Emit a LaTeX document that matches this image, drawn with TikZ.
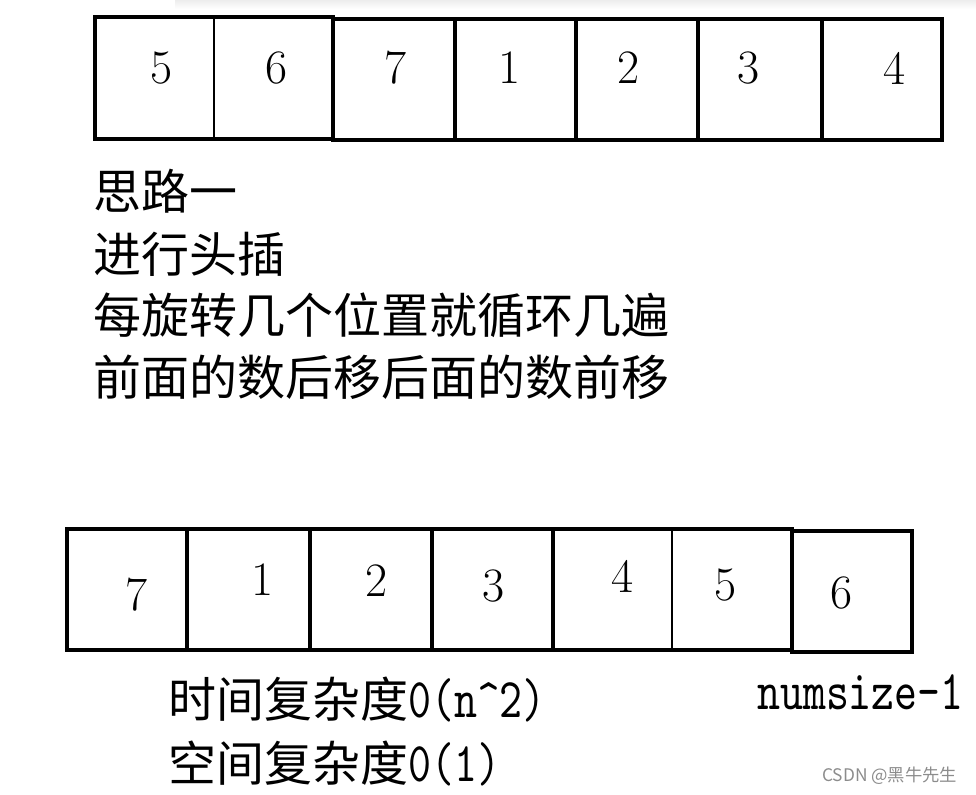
\documentclass[tikz,border=0pt]{standalone}
\usepackage{fontspec}
\newfontfamily\cjk{Noto Sans CJK SC}
\newfontfamily\halfw[FakeStretch=0.78]{lmmono10-regular.otf}
\begin{document}
\begin{tikzpicture}[x=0.75pt, y=-0.75pt]
	\tikzstyle{cell} = [draw, line width=3.2pt]
	\tikzstyle{thin} = [draw, line width=1.5pt]
	\tikzstyle{digit} = [inner sep=0pt, font=\fontsize{36}{40}\selectfont]
	\tikzstyle{note} = [inner sep=0pt, anchor=west, font=\cjk\fontsize{36}{40}\selectfont]
	\useasboundingbox (0,0) rectangle (976,795);
	\shade[top color=black!7, bottom color=white] (175,0) rectangle (976,9);
	% array before rotation
	\draw[cell] (95,17) rectangle (333,139);
	\draw[thin] (214,17) -- (214,139);
	\foreach \l/\r in {333/455, 455/576, 576/698, 698/822, 822/942}
		\draw[cell] (\l,19) rectangle (\r,140);
	\foreach \v/\x in {5/162, 6/277, 7/396, 1/510, 2/629, 3/749, 4/895}
		\node[digit] (top\v) at (\x,68) {\v};
	% notes
	\node[note] (idea) at (93,191) {思路一};
	\node[note] (head) at (93,254) {进行头插};
	\node[note] (loop) at (93,315) {每旋转几个位置就循环几遍};
	\node[note] (move) at (93,377) {前面的数后移后面的数前移};
	% array after rotation
	\foreach \l/\r in {67/187, 187/310, 310/432, 432/553}
		\draw[cell] (\l,529) rectangle (\r,650);
	\draw[cell] (553,529) rectangle (792,650);
	\draw[thin] (672,529) -- (672,650);
	\draw[cell] (792,531) rectangle (912,652);
	\foreach \v/\x/\y in {7/137/595, 1/263/580, 2/377/581, 3/494/586, 4/623/576, 5/726/585, 6/842/593}
		\node[digit] (bot\v) at (\x,\y) {\v};
	% cost
	\node[note] (time) at (168,700) {时间复杂度{\halfw\fontsize{42}{44}\selectfont 0(n\textasciicircum2)}};
	\node[note] (space) at (168,763) {空间复杂度{\halfw\fontsize{42}{44}\selectfont 0(1)}};
	\node[note, font=\halfw\fontsize{42}{44}\selectfont] (size) at (757,692) {numsize-1};
	\node[anchor=west, inner sep=0pt, text=black!45, font=\cjk\fontsize{13}{15}\selectfont] (mark) at (822,776) {CSDN @黑牛先生};
\end{tikzpicture}
\end{document}
